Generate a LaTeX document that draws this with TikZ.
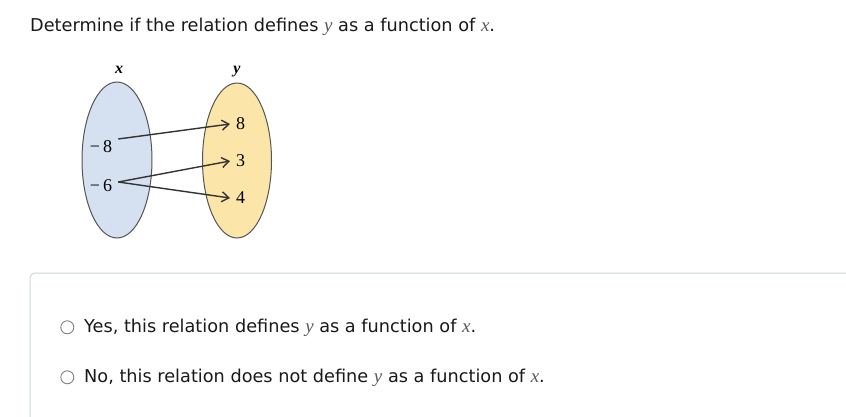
\documentclass[tikz,border=0pt]{standalone}
\usepackage{fontspec}
\setmainfont{DejaVu Sans}
\newfontfamily\tms{Liberation Serif}
\usetikzlibrary{arrows.meta}
\definecolor{setx}{HTML}{D5E0F1}
\definecolor{sety}{HTML}{FCE5A8}
\definecolor{rim}{HTML}{555555}
\definecolor{boxline}{HTML}{CBD5D8}
\newcommand{\mv}[1]{{\tms\itshape\color{black!65}\fontsize{19}{19}\selectfont#1}}
\begin{document}
\begin{tikzpicture}[x=1pt,y=-1pt,
	num/.style={font=\tms\fontsize{18}{18}\selectfont,inner sep=0pt},
	lab/.style={font=\tms\bfseries\itshape\fontsize{16}{16}\selectfont,inner sep=0pt},
	txt/.style={font=\fontsize{17.7}{20}\selectfont,anchor=base west,inner sep=0pt,text=black!90},
	map/.style={-{Straight Barb[length=7pt,width=10pt]},line width=1.4pt,draw=black!80}]
		\useasboundingbox (0,0) rectangle (846,417);
		\clip (0,0) rectangle (846,417);
		\node[txt] (q) at (30,31.5) {Determine if the relation defines \mv{y} as a function of \mv{x}.};
		\draw[rim,line width=1pt,fill=setx] (117,160) ellipse [x radius=35pt,y radius=78pt];
		\draw[rim,line width=1pt,fill=sety] (237,160.5) ellipse [x radius=34.5pt,y radius=77.5pt];
		\node[lab] (hx) at (119,70) {x};
		\node[lab] (hy) at (237,72) {y};
		\node[num] (a8) at (101,147) {−\,8};
		\node[num] (a6) at (101,186) {−\,6};
		\node[num] (b8) at (240.7,124) {8};
		\node[num] (b3) at (240.7,161) {3};
		\node[num] (b4) at (240.7,198) {4};
		\draw[map] ([shift={(6,-8)}]a8.east) -- ([xshift=-6pt]b8.west);
		\draw[map] ([shift={(6,-4)}]a6.east) -- ([xshift=-6pt]b3.west);
		\draw[map] ([shift={(6,-4)}]a6.east) -- ([xshift=-6pt]b4.west);
		\draw[boxline,line width=1pt,rounded corners=5pt] (30,273) rectangle (880,450);
		\foreach \yy in {327.3,377.3}
		{
			\draw[black!50,line width=0.9pt] (67.3,\yy) circle[radius=6.5pt];
		}
		\node[txt] (yes) at (84,332.7) {Yes, this relation defines \mv{y} as a function of \mv{x}.};
		\node[txt] (no) at (84,382.7) {No, this relation does not define \mv{y} as a function of \mv{x}.};
\end{tikzpicture}
\end{document}
